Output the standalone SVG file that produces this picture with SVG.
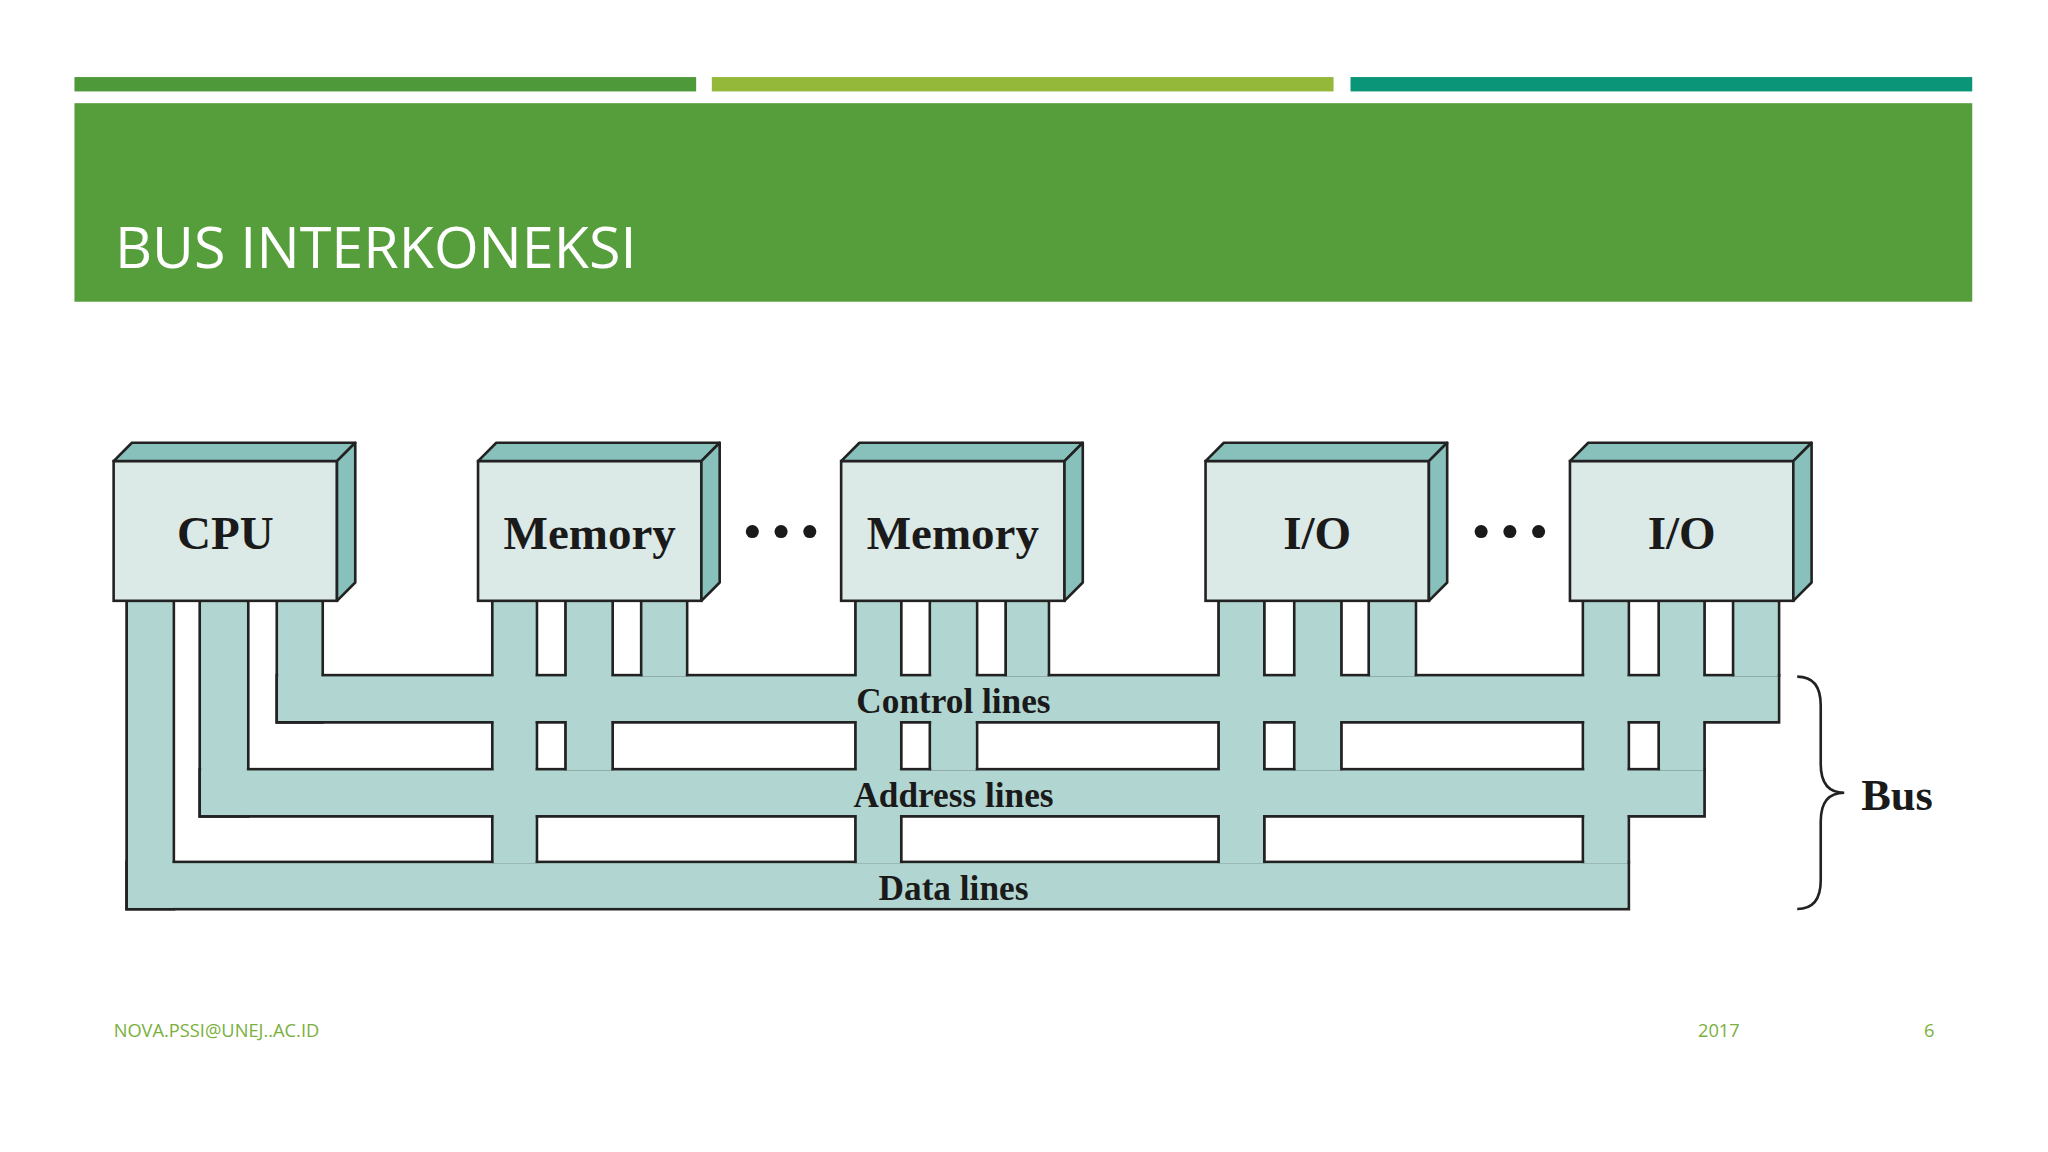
<svg xmlns="http://www.w3.org/2000/svg" width="2048" height="1152" viewBox="0 0 2048 1152">
<style>
.fr{fill:#dbe9e7;stroke:#222;stroke-width:2}
.sd{fill:#88c0bc;stroke:#222;stroke-width:2;stroke-linejoin:round}
.bo{fill:#b1d5d1;stroke:#222;stroke-width:2.2}
.bf{fill:#b1d5d1}
.lb{font-family:"Liberation Serif",serif;font-weight:bold;fill:#1a1a1a}
.ft{font-family:"Open Sans","Noto Sans",sans-serif;font-size:14px;fill:#7ab03c}
</style>
<defs>
<g id="box">
<rect class="fr" x="0" y="14" width="171" height="107"/>
<path class="sd" d="M0 14 L14 0 L185 0 L171 14 Z"/>
<path class="sd" d="M171 14 L185 0 L185 107 L171 121 Z"/>
</g>
</defs>
<rect width="2048" height="1152" fill="#fff"/>
<g transform="scale(1.30612)">
<g id="header">
<rect x="57" y="59" width="476" height="11" fill="#4e9a3a"/>
<rect x="545" y="59" width="476" height="11" fill="#93b83a"/>
<rect x="1034" y="59" width="476" height="11" fill="#0a9478"/>
<rect x="57" y="79" width="1453" height="152" fill="#559e3b"/>
<text x="88" y="205" font-family="'Open Sans','Noto Sans',sans-serif" font-size="44" fill="#fff">BUS INTERKONEKSI</text>
</g>
<g id="connectors">
<g id="outlines">
<rect class="bo" x="97" y="460" width="36" height="236"/><rect class="bo" x="97" y="660" width="1150" height="36"/>
<rect class="bo" x="377" y="460" width="34" height="200"/><rect class="bo" x="655" y="460" width="35" height="200"/>
<rect class="bo" x="933" y="460" width="35" height="200"/><rect class="bo" x="1212" y="460" width="35" height="200"/>
<rect class="bo" x="153" y="460" width="37" height="165"/><rect class="bo" x="153" y="589" width="1152" height="36"/>
<rect class="bo" x="433" y="460" width="36" height="129"/><rect class="bo" x="712" y="460" width="36" height="129"/>
<rect class="bo" x="991" y="460" width="36" height="129"/><rect class="bo" x="1270" y="460" width="35" height="129"/>
<rect class="bo" x="212" y="460" width="35" height="93"/><rect class="bo" x="212" y="517" width="1150" height="36"/>
<rect class="bo" x="491" y="460" width="35" height="57"/><rect class="bo" x="770" y="460" width="33" height="57"/>
<rect class="bo" x="1048" y="460" width="36" height="57"/><rect class="bo" x="1327" y="460" width="35" height="57"/>
</g>
<g id="fills">
<rect class="bf" x="98" y="461" width="34" height="234"/><rect class="bf" x="98" y="661" width="1148" height="34"/>
<rect class="bf" x="378" y="461" width="32" height="200"/><rect class="bf" x="656" y="461" width="33" height="200"/>
<rect class="bf" x="934" y="461" width="33" height="200"/><rect class="bf" x="1213" y="461" width="33" height="200"/>
<rect class="bf" x="154" y="461" width="35" height="163"/><rect class="bf" x="154" y="590" width="1150" height="34"/>
<rect class="bf" x="434" y="461" width="34" height="129"/><rect class="bf" x="713" y="461" width="34" height="129"/>
<rect class="bf" x="992" y="461" width="34" height="129"/><rect class="bf" x="1271" y="461" width="33" height="129"/>
<rect class="bf" x="213" y="461" width="33" height="91"/><rect class="bf" x="213" y="518" width="1148" height="34"/>
<rect class="bf" x="492" y="461" width="33" height="57"/><rect class="bf" x="771" y="461" width="31" height="57"/>
<rect class="bf" x="1049" y="461" width="34" height="57"/><rect class="bf" x="1328" y="461" width="33" height="57"/>
</g>
<text class="lb" x="730" y="546" font-size="27" text-anchor="middle">Control lines</text>
<text class="lb" x="730" y="618" font-size="27" text-anchor="middle">Address lines</text>
<text class="lb" x="730" y="689" font-size="27" text-anchor="middle">Data lines</text>
<path d="M1376 518 Q1394 518 1394 540 L1394 585 Q1394 607 1412 607 Q1394 607 1394 629 L1394 674 Q1394 696 1376 696" fill="none" stroke="#222" stroke-width="2"/>
<text class="lb" x="1425" y="620" font-size="34">Bus</text>
</g>
<g id="cpu"><use href="#box" x="87" y="339"/><text class="lb" x="172.5" y="420" font-size="36" text-anchor="middle">CPU</text></g>
<g id="mem1"><use href="#box" x="366" y="339"/><text class="lb" x="451.5" y="420" font-size="36" text-anchor="middle">Memory</text></g>
<g id="mem2"><use href="#box" x="644" y="339"/><text class="lb" x="729.5" y="420" font-size="36" text-anchor="middle">Memory</text></g>
<g id="io1"><use href="#box" x="923" y="339"/><text class="lb" x="1008.5" y="420" font-size="36" text-anchor="middle">I/O</text></g>
<g id="io2"><use href="#box" x="1202" y="339"/><text class="lb" x="1287.5" y="420" font-size="36" text-anchor="middle">I/O</text></g>
<g id="dots" fill="#1a1a1a">
<circle cx="576" cy="407" r="5"/><circle cx="598" cy="407" r="5"/><circle cx="620" cy="407" r="5"/>
<circle cx="1134" cy="407" r="5"/><circle cx="1156" cy="407" r="5"/><circle cx="1178" cy="407" r="5"/>
</g>
<g id="footer">
<text class="ft" x="87" y="794">NOVA.PSSI@UNEJ..AC.ID</text>
<text class="ft" x="1300" y="794">2017</text>
<text class="ft" x="1473" y="794">6</text>
</g>
</g>
</svg>
